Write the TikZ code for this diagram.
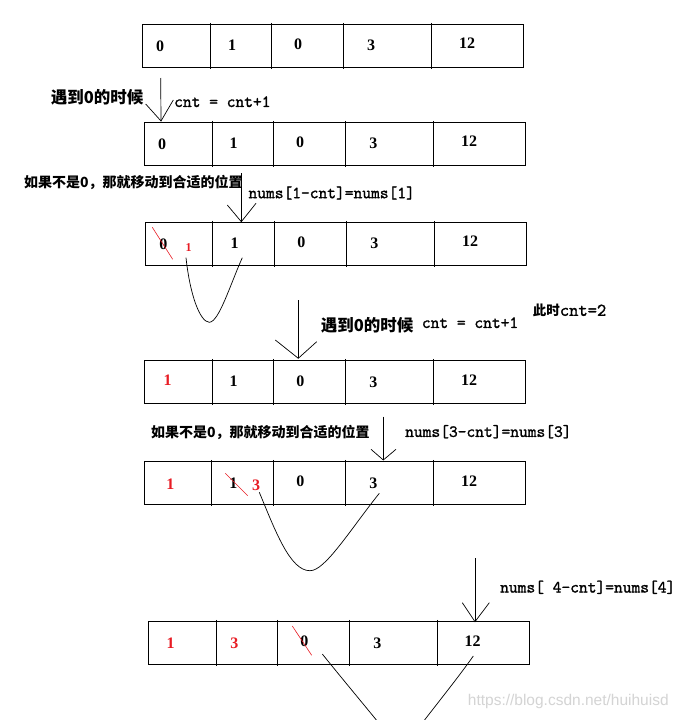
\documentclass[tikz,border=0pt]{standalone}
\usepackage{fontspec}
\setmainfont{Liberation Serif}
\newfontfamily\cjk{Noto Sans CJK SC}
\newfontfamily\codefont{Latin Modern Mono}[AutoFakeBold=1.6]
\newfontfamily\webfont{Liberation Sans}
\definecolor{penred}{RGB}{232, 28, 36}
\definecolor{markgray}{RGB}{212, 212, 212}

\begin{document}
\begin{tikzpicture}[x=1pt, y=-1pt,
    box/.style={line width=1pt},
    pen/.style={line width=0.7pt},
    strike/.style={penred, line width=0.6pt},
    num/.style={inner sep=0pt, font=\bfseries\fontsize{16}{16}\selectfont},
    rednum/.style={num, text=penred},
    note/.style={inner sep=0pt, anchor=west, font=\cjk\bfseries\fontsize{14}{14}\selectfont},
    when/.style={inner sep=0pt, anchor=west, font=\cjk\bfseries\fontsize{16.5}{16.5}\selectfont},
    code/.style={inner sep=0pt, anchor=west, font=\codefont\bfseries\fontsize{17}{17}\selectfont}]
\useasboundingbox[fill=white] (0,0) rectangle (680,720);

% the six arrays
\foreach \l/\t/\r/\b/\da/\db/\dc/\dd in {
    142.3/24.3/523.3/67.3/210/271.3/343.3/431.3,
    144.3/122.3/525.3/165.3/212/273.3/345.7/433.7,
    145.7/222.3/526.3/265.3/212.7/274.3/346.7/434.3,
    144.3/360.3/525.3/403.3/212.3/273.3/345/433.7,
    144.3/461.3/525.3/504.3/211.7/273.3/345/433.7,
    148.3/621.3/529.3/664.3/216/277.3/349.3/437.3}{
  \draw[box] (\l,\t) rectangle (\r,\b);
  \foreach \d in {\da,\db,\dc,\dd}
    \draw[box] (\d,\t-1.5) -- (\d,\b+1.5);
}

\node[num] (r1a) at (160,46) {0};
\node[num] (r1b) at (232,45) {1};
\node[num] (r1c) at (298,44) {0};
\node[num] (r1d) at (371,45) {3};
\node[num] (r1e) at (467,43) {12};

\node[num] (r2a) at (162,144) {0};
\node[num] (r2b) at (233.7,143) {1};
\node[num] (r2c) at (300,142.7) {0};
\node[num] (r2d) at (373.3,143.7) {3};
\node[num] (r2e) at (469,141.7) {12};

\node[num] (r3a) at (163.3,244.3) {0};
\node[rednum, font=\bfseries\fontsize{12}{12}\selectfont] (r3new) at (188.7,247.3) {1};
\node[num] (r3b) at (234.7,243.3) {1};
\node[num] (r3c) at (301.3,242.7) {0};
\node[num] (r3d) at (374.3,243.7) {3};
\node[num] (r3e) at (470,241.7) {12};
\draw[strike] (152.3,227.3) -- (172.7,259.3);

\node[rednum] (r4a) at (167.7,380.7) {1};
\node[num] (r4b) at (233.7,381.7) {1};
\node[num] (r4c) at (300.3,381) {0};
\node[num] (r4d) at (373.3,382) {3};
\node[num] (r4e) at (469,380) {12};

\node[rednum] (r5a) at (170.3,484) {1};
\node[num] (r5b) at (233.3,483.3) {1};
\node[rednum] (r5new) at (256,485.7) {3};
\node[num] (r5c) at (300.3,481.7) {0};
\node[num] (r5d) at (373.3,483.3) {3};
\node[num] (r5e) at (469,481) {12};
\draw[strike] (225.3,473.3) -- (247.7,495.7);

\node[rednum] (r6a) at (170.7,643.3) {1};
\node[rednum] (r6b) at (234.3,643.3) {3};
\node[num] (r6c) at (304.3,641) {0};
\node[num] (r6d) at (377.3,643.3) {3};
\node[num] (r6e) at (472.7,641) {12};
\draw[strike] (292.3,626) -- (311.7,655.3);

% labels
\node[when] (t1) at (50.7,97) {遇到0的时候};
\node[code] (t2) at (174,101.7) {cnt = cnt+1};
\node[note] (t3) at (24,182.7) {如果不是0，那就移动到合适的位置};
\node[code] (t4) at (248.3,193) {nums[1-cnt]=nums[1]};
\node[when] (t5) at (320.7,325) {遇到0的时候};
\node[code] (t6) at (421.7,322.7) {cnt = cnt+1};
\node[inner sep=0pt, anchor=west] (t7) at (532.7,310.7)
  {{\cjk\bfseries\fontsize{13.5}{13.5}\selectfont 此时}{\codefont\bfseries\fontsize{18}{18}\selectfont cnt=2}};
\node[note] (t8) at (151,432.7) {如果不是0，那就移动到合适的位置};
\node[code] (t9) at (405,431.7) {nums[3-cnt]=nums[3]};
\node[code] (t10) at (500,587.3) {nums[ 4-cnt]=nums[4]};
\node[inner sep=0pt, anchor=west, text=markgray, font=\webfont\fontsize{15.5}{15.5}\selectfont]
  (mark) at (467.7,701.7) {https://blog.csdn.net/huihuisd};

% arrows
\foreach \n/\sx/\sy/\ex/\ey/\lx/\ly/\rx/\ry in {
    1/160.7/78/161/121/145.7/104/173.3/100,
    2/241.3/173/241.3/221.7/227.3/205/256/203.3,
    3/298.3/300/298.3/358.3/275.3/340/316.7/341.7,
    4/383.3/416.7/383.3/460/371/449.3/396/449.3,
    5/475/558.3/475/621.7/462.3/602.7/489.3/602.7}{
  \coordinate (s\n) at (\sx,\sy);
  \coordinate (e\n) at (\ex,\ey);
  \coordinate (bl\n) at (\lx,\ly);
  \coordinate (br\n) at (\rx,\ry);
  \draw[pen] (s\n) -- (e\n);
  \draw[pen] (bl\n) -- (e\n) -- (br\n);
}

% moves
\coordinate (m1a) at (186,257.7);
\coordinate (m1b) at (242.3,257.7);
\draw[pen] (m1a) .. controls (190,295) and (200,322) .. (209.3,322.3)
  .. controls (219,322) and (230,285) .. (m1b);
\coordinate (m2a) at (259.3,492.3);
\coordinate (m2b) at (379.3,493.3);
\draw[pen] (m2a) .. controls (275,530) and (290,571) .. (310,570.7)
  .. controls (325,571) and (350,530) .. (m2b);
\coordinate (m3a) at (322.3,654);
\coordinate (m3b) at (473.3,656);
\coordinate (m3c) at (378,722);
\coordinate (m3d) at (423,722);
\draw[pen] (m3a) .. controls (340,676) and (360,700) .. (m3c);
\draw[pen] (m3b) .. controls (460,675) and (440,700) .. (m3d);
\end{tikzpicture}
\end{document}
